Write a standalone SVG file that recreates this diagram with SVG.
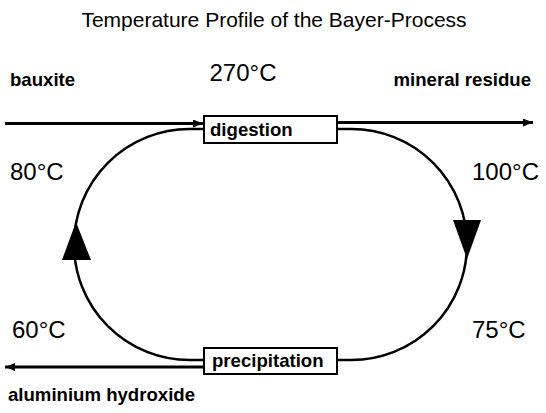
<svg xmlns="http://www.w3.org/2000/svg" width="546" height="413" viewBox="0 0 546 413">
<style>
text{font-family:"Liberation Sans",Arial,sans-serif;fill:#000}
.t{font-size:21px}
.temp{font-size:24px}
.b{font-size:18.6px;font-weight:bold}
.box{fill:#fff;stroke:#000;stroke-width:2}
.flow{fill:none;stroke:#000;stroke-width:3}
.loop{fill:none;stroke:#000;stroke-width:2.5}
</style>
<defs>
<marker id="ah" viewBox="0 0 10 8" refX="10" refY="4" markerWidth="10" markerHeight="8" markerUnits="userSpaceOnUse" orient="auto">
<path d="M0,0 L10,4 L0,8 Z" fill="#000"/>
</marker>
</defs>
<rect width="546" height="413" fill="#fff"/>
<text class="t" x="274" y="27" text-anchor="middle">Temperature Profile of the Bayer-Process</text>
<text class="temp" x="243" y="81" text-anchor="middle">270°C</text>
<text class="b" x="10" y="86">bauxite</text>
<text class="b" x="531" y="86" text-anchor="end">mineral residue</text>
<text class="temp" x="10" y="180">80°C</text>
<text class="temp" x="539" y="180" text-anchor="end">100°C</text>
<text class="temp" x="12" y="338">60°C</text>
<text class="temp" x="472" y="338">75°C</text>
<text class="b" x="8" y="401">aluminium hydroxide</text>
<g id="connectors">
<path class="loop" d="M189.5,129 L351.5,129 A115.5,115.5 0 0 1 351.5,360 L189.5,360 A115.5,115.5 0 0 1 189.5,129 Z"/>
<path class="flow" d="M5,123.5 L203,123.5" marker-end="url(#ah)"/>
<path class="flow" d="M337,122.5 L533,122.5" marker-end="url(#ah)"/>
<path class="flow" d="M203,367 L5,367" marker-end="url(#ah)"/>
<path d="M453,220 L481,220 L467,259 Z" fill="#000"/>
<path d="M76,222 L91,260 L62,260 Z" fill="#000"/>
</g>
<g id="digestion">
<rect class="box" x="204" y="116" width="133" height="27"/>
<text class="b" x="210" y="136">digestion</text>
</g>
<g id="precipitation">
<rect class="box" x="204" y="348" width="133" height="26"/>
<text class="b" x="212" y="367">precipitation</text>
</g>
</svg>
